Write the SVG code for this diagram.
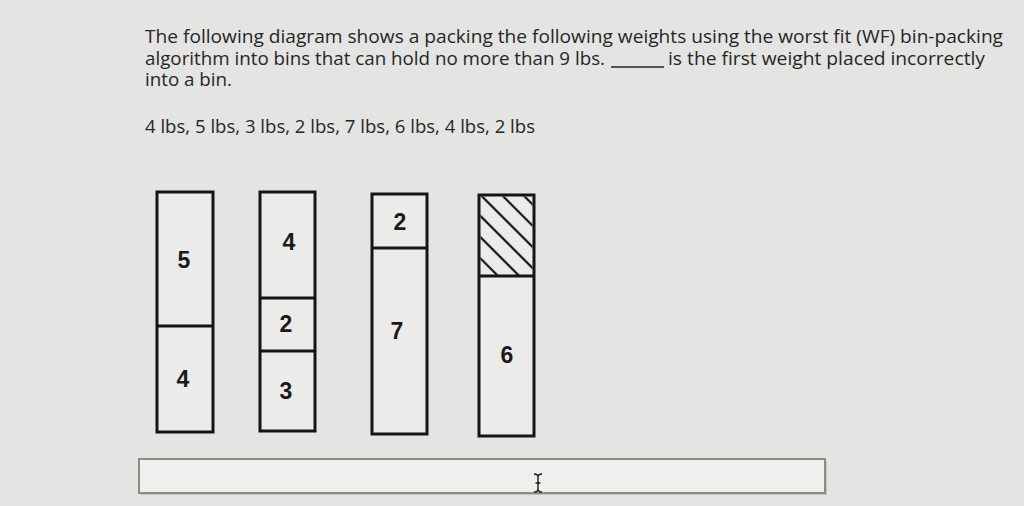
<svg xmlns="http://www.w3.org/2000/svg" width="1024" height="506" viewBox="0 0 1024 506">
<style>
.q{font-family:"Open Sans","Noto Sans","Liberation Sans",sans-serif;font-size:18.5px;fill:#262626}
.n{font-family:"Liberation Sans",Arial,sans-serif;font-size:23px;font-weight:bold;fill:#1a1a1a;text-anchor:middle}
.bin{fill:#ebebe9;stroke:#141414;stroke-width:3}
.div{stroke:#141414;stroke-width:3}
</style>
<defs>
<pattern id="hatch" patternUnits="userSpaceOnUse" width="15" height="15" patternTransform="rotate(-45)">
<line x1="7" y1="0" x2="7" y2="15" stroke="#141414" stroke-width="2.2"/>
</pattern>
</defs>
<rect width="1024" height="506" fill="#e4e4e2"/>
<g id="question">
<text class="q" x="145" y="43" textLength="858" lengthAdjust="spacingAndGlyphs">The following diagram shows a packing the following weights using the worst fit (WF) bin-packing</text>
<text class="q" x="145" y="65" textLength="460" lengthAdjust="spacingAndGlyphs">algorithm into bins that can hold no more than 9 lbs.</text>
<line x1="611" y1="67" x2="664" y2="67" stroke="#262626" stroke-width="1.5"/>
<text class="q" x="668" y="65" textLength="317" lengthAdjust="spacingAndGlyphs">is the first weight placed incorrectly</text>
<text class="q" x="145" y="86" textLength="87" lengthAdjust="spacingAndGlyphs">into a bin.</text>
<text class="q" x="145" y="133" textLength="390" lengthAdjust="spacingAndGlyphs">4 lbs, 5 lbs, 3 lbs, 2 lbs, 7 lbs, 6 lbs, 4 lbs, 2 lbs</text>
</g>
<g id="bin1">
<rect class="bin" x="157" y="192" width="56" height="240"/>
<line class="div" x1="157" y1="326" x2="213" y2="326"/>
<text class="n" x="184" y="268">5</text>
<text class="n" x="183" y="387">4</text>
</g>
<g id="bin2">
<rect class="bin" x="260" y="192" width="55" height="239"/>
<line class="div" x1="260" y1="298" x2="315" y2="298"/>
<line class="div" x1="260" y1="351" x2="315" y2="351"/>
<text class="n" x="289" y="250">4</text>
<text class="n" x="286" y="332">2</text>
<text class="n" x="286" y="399">3</text>
</g>
<g id="bin3">
<rect class="bin" x="372" y="194" width="55" height="240"/>
<line class="div" x1="372" y1="248" x2="427" y2="248"/>
<text class="n" x="400" y="230">2</text>
<text class="n" x="397" y="339">7</text>
</g>
<g id="bin4">
<rect class="bin" x="479" y="195" width="55" height="241"/>
<rect x="480.5" y="196.5" width="52" height="79" fill="url(#hatch)"/>
<line class="div" x1="479" y1="276" x2="534" y2="276"/>
<text class="n" x="507" y="363">6</text>
</g>
<g id="answer-box">
<rect x="141" y="461" width="686" height="34" fill="#a8a89c" opacity="0.5"/>
<rect x="139" y="459" width="686" height="34" fill="#efefed" stroke="#8c8c82" stroke-width="2"/>
<path d="M534 474 Q538 474 538 477 L538 489 Q538 492 534 492 M542 474 Q538 474 538 477 M538 489 Q538 492 542 492 M535.5 483 L540.5 483" fill="none" stroke="#1a1a1a" stroke-width="1.4"/>
</g>
</svg>
